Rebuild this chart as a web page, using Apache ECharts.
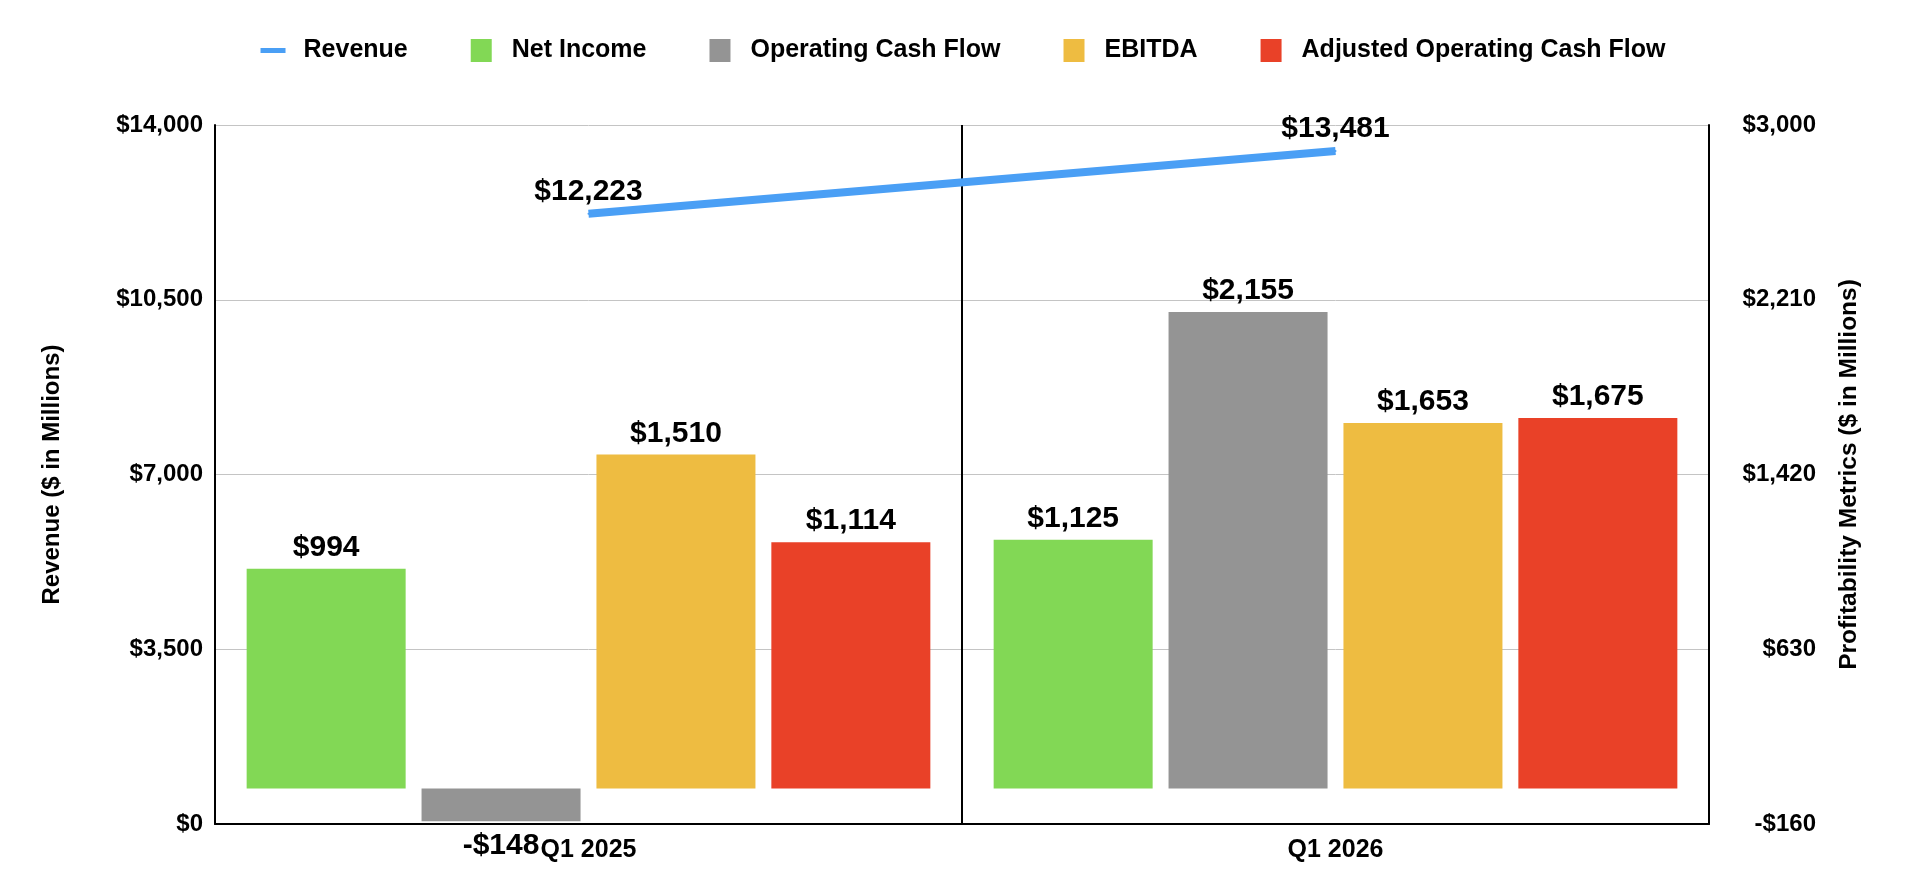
<!DOCTYPE html>
<html>
<head>
<meta charset="utf-8">
<script src="https://cdn.jsdelivr.net/npm/echarts@6/dist/echarts.min.js"></script>
<style>
  html, body { margin: 0; padding: 0; background: #fff; }
  #chart { width: 1926px; height: 894px; }
</style>
</head>
<body>
<div id="chart"></div>
<script>
var categories = ['Q1 2025', 'Q1 2026'];
var revenue = [12223, 13481];
var netIncome = [994, 1125];
var operatingCashFlow = [-148, 2155];
var ebitda = [1510, 1653];
var adjustedOcf = [1114, 1675];

var FONT = '"Liberation Sans", Arial, Helvetica, sans-serif';

function money(v) {
  v = Math.round(v);
  return (v < 0 ? '-$' : '$') + Math.abs(v).toLocaleString('en-US');
}

var chartDom = document.getElementById('chart');
var myChart = echarts.init(chartDom);
var option;

var dataLabel = {
  show: true,
  position: 'top',
  distance: 6,
  color: '#000',
  fontFamily: FONT,
  fontWeight: 'bold',
  fontSize: 30,
  formatter: function (p) { return money(p.value); }
};

// negative bars put their label underneath
function barData(arr) {
  return arr.map(function (v) {
    if (v < 0) {
      return { value: v, label: { position: 'bottom', distance: 9 } };
    }
    return v;
  });
}

function barSeries(name, arr, color) {
  return {
    name: name,
    type: 'bar',
    yAxisIndex: 1,
    barWidth: 159,
    barGap: '10%',
    itemStyle: { color: color },
    label: dataLabel,
    data: barData(arr)
  };
}

// square with a little side padding so the line icon can be wider
var squareIcon = 'path://M0,0M2,0L23,0L23,23L2,23ZM25,23';

option = {
  animation: false,
  textStyle: { fontFamily: FONT },
  legend: {
    top: 33,
    left: 'center',
    itemWidth: 25,
    itemHeight: 23,
    itemGap: 61,
    textStyle: {
      fontFamily: FONT,
      fontWeight: 'bold',
      fontSize: 25,
      color: '#000',
      padding: [0, 0, 0, 13]
    },
    data: [
      { name: 'Revenue', icon: 'path://M0,0M0,9L25,9L25,14L0,14ZM25,23' },
      { name: 'Net Income', icon: squareIcon },
      { name: 'Operating Cash Flow', icon: squareIcon },
      { name: 'EBITDA', icon: squareIcon },
      { name: 'Adjusted Operating Cash Flow', icon: squareIcon }
    ]
  },
  grid: {
    left: 215,
    right: 217,
    top: 125,
    bottom: 70
  },
  xAxis: {
    type: 'category',
    data: categories,
    axisTick: { show: false },
    axisLine: { lineStyle: { color: '#000', width: 2 } },
    splitLine: { show: true, lineStyle: { color: '#000', width: 2 } },
    axisLabel: {
      margin: 14,
      color: '#000',
      fontFamily: FONT,
      fontWeight: 'bold',
      fontSize: 25
    }
  },
  yAxis: [
    {
      type: 'value',
      min: 0,
      max: 14000,
      interval: 3500,
      name: 'Revenue ($ in Millions)',
      nameLocation: 'middle',
      nameGap: 151,
      nameTextStyle: {
        color: '#000',
        fontFamily: FONT,
        fontWeight: 'bold',
        fontSize: 24
      },
      axisLine: { show: true, lineStyle: { color: '#000', width: 2 } },
      axisTick: { show: false },
      splitLine: { lineStyle: { color: '#c4c4c4', width: 1 } },
      axisLabel: {
        margin: 12,
        color: '#000',
        fontFamily: FONT,
        fontWeight: 'bold',
        fontSize: 24,
        formatter: money
      }
    },
    {
      type: 'value',
      min: -160,
      max: 3000,
      alignTicks: true,
      position: 'right',
      name: 'Profitability Metrics ($ in Millions)',
      nameLocation: 'middle',
      nameGap: 128,
      nameTextStyle: {
        color: '#000',
        fontFamily: FONT,
        fontWeight: 'bold',
        fontSize: 24.5
      },
      axisLine: { show: true, lineStyle: { color: '#000', width: 2 } },
      axisTick: { show: false },
      splitLine: { show: false },
      axisLabel: {
        margin: 107,
        align: 'right',
        color: '#000',
        fontFamily: FONT,
        fontWeight: 'bold',
        fontSize: 24,
        formatter: money
      }
    }
  ],
  series: [
    {
      name: 'Revenue',
      type: 'line',
      yAxisIndex: 0,
      symbol: 'circle',
      symbolSize: 2,
      showSymbol: true,
      z: 5,
      lineStyle: { color: '#4a9ff5', width: 8 },
      itemStyle: { color: '#4a9ff5' },
      label: dataLabel,
      data: revenue
    },
    barSeries('Net Income', netIncome, '#82d855'),
    barSeries('Operating Cash Flow', operatingCashFlow, '#949494'),
    barSeries('EBITDA', ebitda, '#eebc41'),
    barSeries('Adjusted Operating Cash Flow', adjustedOcf, '#e94128')
  ]
};

option && myChart.setOption(option);
</script>
</body>
</html>
